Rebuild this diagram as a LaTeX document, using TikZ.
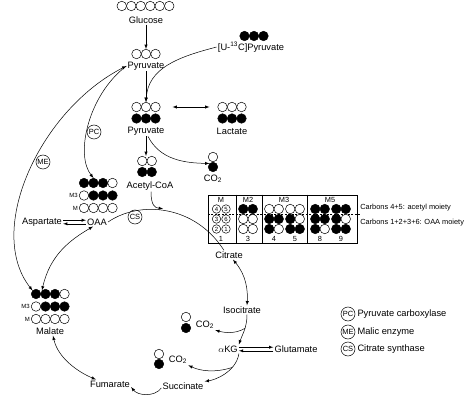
\documentclass[tikz,border=0pt]{standalone}
\usepackage{fontspec}
\setmainfont{Liberation Sans}
\usepackage{tikz}
\usetikzlibrary{positioning,arrows}

\begin{document}
\begin{tikzpicture}[x=1pt,y=-1pt,font=\fontsize{9.3}{11}\selectfont,>=latex,line width=0.5pt,
every node/.style={inner sep=1pt},
wc/.style={circle,draw,fill=white,minimum size=9.5pt,inner sep=0pt},
bc/.style={wc,fill=black},
nc/.style={wc,minimum size=8.5pt,font=\fontsize{6}{6}\selectfont},
enz/.style={circle,draw,minimum size=14pt,inner sep=0pt,font=\fontsize{7.5}{8}\selectfont},
lab/.style={font=\fontsize{7.4}{8}\selectfont},
mlab/.style={font=\fontsize{6}{6}\selectfont,inner sep=0.5pt}]
\useasboundingbox (0,0) rectangle (474,406);

\foreach \i in {1,...,6} \node[wc] (g\i) at ({121.75+9.5*(\i-1)},6) {};
\node (glc) at (146,20) {Glucose};
\foreach \i in {1,2,3} \node[wc] (pa\i) at ({136.5+9.5*(\i-1)},54) {};
\node (pyr) at (146,66) {Pyruvate};
\foreach \i in {1,2,3} \node[bc] (u\i) at ({244.5+9.5*(\i-1)},36) {};
\node (upyr) at (251,47) {[U-\textsuperscript{13}C]Pyruvate};

\foreach \i in {1,2,3} {
  \node[wc] (pw\i) at ({136.5+9.5*(\i-1)},107) {};
  \node[bc] (pb\i) at ({136.5+9.5*(\i-1)},118.5) {};
  \node[wc] (lw\i) at ({222.5+9.5*(\i-1)},107) {};
  \node[bc] (lb\i) at ({222.5+9.5*(\i-1)},118.5) {};
}
\node (pyrb) at (146,131) {Pyruvate};
\node (lac) at (232,131) {Lactate};
\foreach \i in {1,2} {
  \node[wc] (aw\i) at ({142.25+9.5*(\i-1)},161) {};
  \node[bc] (ab\i) at ({142.25+9.5*(\i-1)},172) {};
}
\node (acoa) at (150,186) {Acetyl-CoA};
\node[wc] (c1w) at (213,157) {};
\node[bc] (c1b) at (213,167) {};
\node (co2a) at (213,179) {CO\textsubscript{2}};

\foreach \ua/\ub/\uc/\ud [count=\r] in {bc/bc/bc/wc, wc/bc/bc/bc, wc/wc/wc/wc} {
  \node[\ua] (o\r-1) at (84,{170.5+12.5*\r}) {};
  \node[\ub] (o\r-2) at (93.5,{170.5+12.5*\r}) {};
  \node[\uc] (o\r-3) at (103,{170.5+12.5*\r}) {};
  \node[\ud] (o\r-4) at (112.5,{170.5+12.5*\r}) {};
  \node[\ua] (m\r-1) at (36,{281.5+12.5*\r}) {};
  \node[\ub] (m\r-2) at (45.5,{281.5+12.5*\r}) {};
  \node[\uc] (m\r-3) at (55,{281.5+12.5*\r}) {};
  \node[\ud] (m\r-4) at (64.5,{281.5+12.5*\r}) {};
}
\node[mlab,left=0.5pt of o2-1] (om3) {M3};
\node[mlab,left=0.5pt of o3-1] (om) {M};
\node[mlab,left=0.5pt of m2-1] (mm3) {M3};
\node[mlab,left=0.5pt of m3-1] (mm) {M};
\node (oaa) at (97,222) {OAA};
\node (asp) at (42,222) {Aspartate};
\node (mal) at (50,331) {Malate};

\node[enz] (pc) at (94,132) {PC};
\node[enz] (me) at (43,162) {ME};
\node[enz] (cs) at (135,217) {CS};

\node[draw,minimum width=149pt,minimum height=48pt,inner sep=0pt] (box) at (282.5,219) {};
\foreach \x in {236,262,307} \draw (\x,0 |- box.north) -- (\x,0 |- box.south);
\draw[dashed,dash pattern=on 2pt off 1.5pt] (box.west |- 0,214) -- (361,214);
\foreach \t/\x in {M/221,M2/248,M3/284,M5/330} \node[lab] (h\t) at (\x,200) {\t};
\foreach \t/\x in {1/221,3/248,4/274,5/295,8/320,9/341} \node[lab] (n\t) at (\x,239) {\t};
\foreach \ta/\tb [count=\r] in {4/5,3/6,2/1} {
  \node[nc] (k\r-1) at (216.5,{199+10*\r}) {\ta};
  \node[nc] (k\r-2) at (226,{199+10*\r}) {\tb};
}
\foreach \n/\xc/\ua/\ub/\uc/\ud/\ue/\uf in {3/248/bc/bc/wc/wc/wc/wc, 4/274/wc/wc/bc/bc/bc/wc,
  5/295/wc/wc/bc/wc/bc/bc, 8/320/bc/bc/bc/bc/bc/wc, 9/341/bc/bc/bc/wc/bc/bc} {
  \node[\ua] (i\n-1) at ({\xc-4.75},209) {};
  \node[\ub] (i\n-2) at ({\xc+4.75},209) {};
  \node[\uc] (i\n-3) at ({\xc-4.75},219) {};
  \node[\ud] (i\n-4) at ({\xc+4.75},219) {};
  \node[\ue] (i\n-5) at ({\xc-4.75},229) {};
  \node[\uf] (i\n-6) at ({\xc+4.75},229) {};
}
\node[lab,anchor=west] (acm) at (359,208) {Carbons 4+5: acetyl moiety};
\node[lab,anchor=west] (oam) at (359,223) {Carbons 1+2+3+6: OAA moiety};

\node (cit) at (229,255) {Citrate};
\node (icit) at (242,310) {Isocitrate};
\node[wc] (c2w) at (186,317) {};
\node[bc] (c2b) at (186,328) {};
\node (co2b) at (205,325) {CO\textsubscript{2}};
\node (akg) at (228,349) {$\alpha$KG};
\node (glu) at (296,349) {Glutamate};
\node[wc] (c3w) at (159,354) {};
\node[bc] (c3b) at (159,364) {};
\node (co2c) at (178,360) {CO\textsubscript{2}};
\node (suc) at (183,386) {Succinate};
\node (fum) at (110,384) {Fumarate};

\node[enz] (pcl) at (348,314) {PC};
\node[right=1pt of pcl] (pclt) {Pyruvate carboxylase};
\node[enz] (mel) at (348,332) {ME};
\node[right=1pt of mel] (melt) {Malic enzyme};
\node[enz] (csl) at (348,349) {CS};
\node[right=1pt of csl] (cslt) {Citrate synthase};

\draw[->] (glc) -- (pa2);
\draw[->] (pyr) -- (pw2);
\draw[->] (upyr.west) .. controls (178,57) and (148,68) .. (pw2.north);
\draw[<->] ([xshift=12pt]pw3.east) -- ([xshift=-8pt]lw1.west);
\draw[->] (pyrb.south) -- (pyrb.south |- aw1.north);
\draw[->] ([xshift=2pt]pyrb.south) .. controls (160,160) and (185,163) .. (c1b.north west);
\coordinate (csj) at (163,208.5);
\draw[->] ([xshift=1pt]acoa.south) .. controls +(0,14) and (155,208) .. (csj);
\draw (oaa.east) .. controls (140,200) and (195,205) .. ([xshift=-5pt]cit.north);
\draw[->] (pyr.west) .. controls (88,95) and (75,155) .. (o1-2.north);
\draw[<->] (pyr.west) .. controls (40,110) and (-15,230) .. (m1-1.north west);
\draw[->] ([yshift=1.8pt]asp.east) -- ([yshift=1.8pt]oaa.west);
\draw[->] ([yshift=-1.8pt]oaa.west) -- ([yshift=-1.8pt]asp.east);
\draw[<->] ([xshift=-4pt]oaa.south) .. controls (70,240) and (50,255) .. (m1-2.north west);
\draw[<->] ([xshift=3pt]mal.south) .. controls (58,358) and (78,372) .. ([xshift=-14pt]fum.north);
\draw[->] ([yshift=-2pt]suc.west) .. controls (155,397) and (138,396) .. ([yshift=-3pt]fum.east);
\draw[<->] ([xshift=4pt]cit.south) .. controls (246,275) and (248,290) .. ([xshift=5pt]icit.north);
\draw[->] ([xshift=5pt]icit.south) .. controls (247,328) and (242,335) .. (akg.north east);
\coordinate (ij) at (245,328.3);
\draw[->] (ij) .. controls (234,335) and (222,332) .. (co2b.south east);
\draw[->] ([yshift=1.8pt]akg.east) -- ([yshift=1.8pt]glu.west);
\draw[->] ([yshift=-1.8pt]glu.west) -- ([yshift=-1.8pt]akg.east);
\draw[->] (akg.south east) .. controls (236,372) and (215,380) .. (suc.north east);
\coordinate (kj) at (232,367.5);
\draw[->] (kj) .. controls (215,373) and (200,371) .. (co2c.south east);
\end{tikzpicture}
\end{document}
